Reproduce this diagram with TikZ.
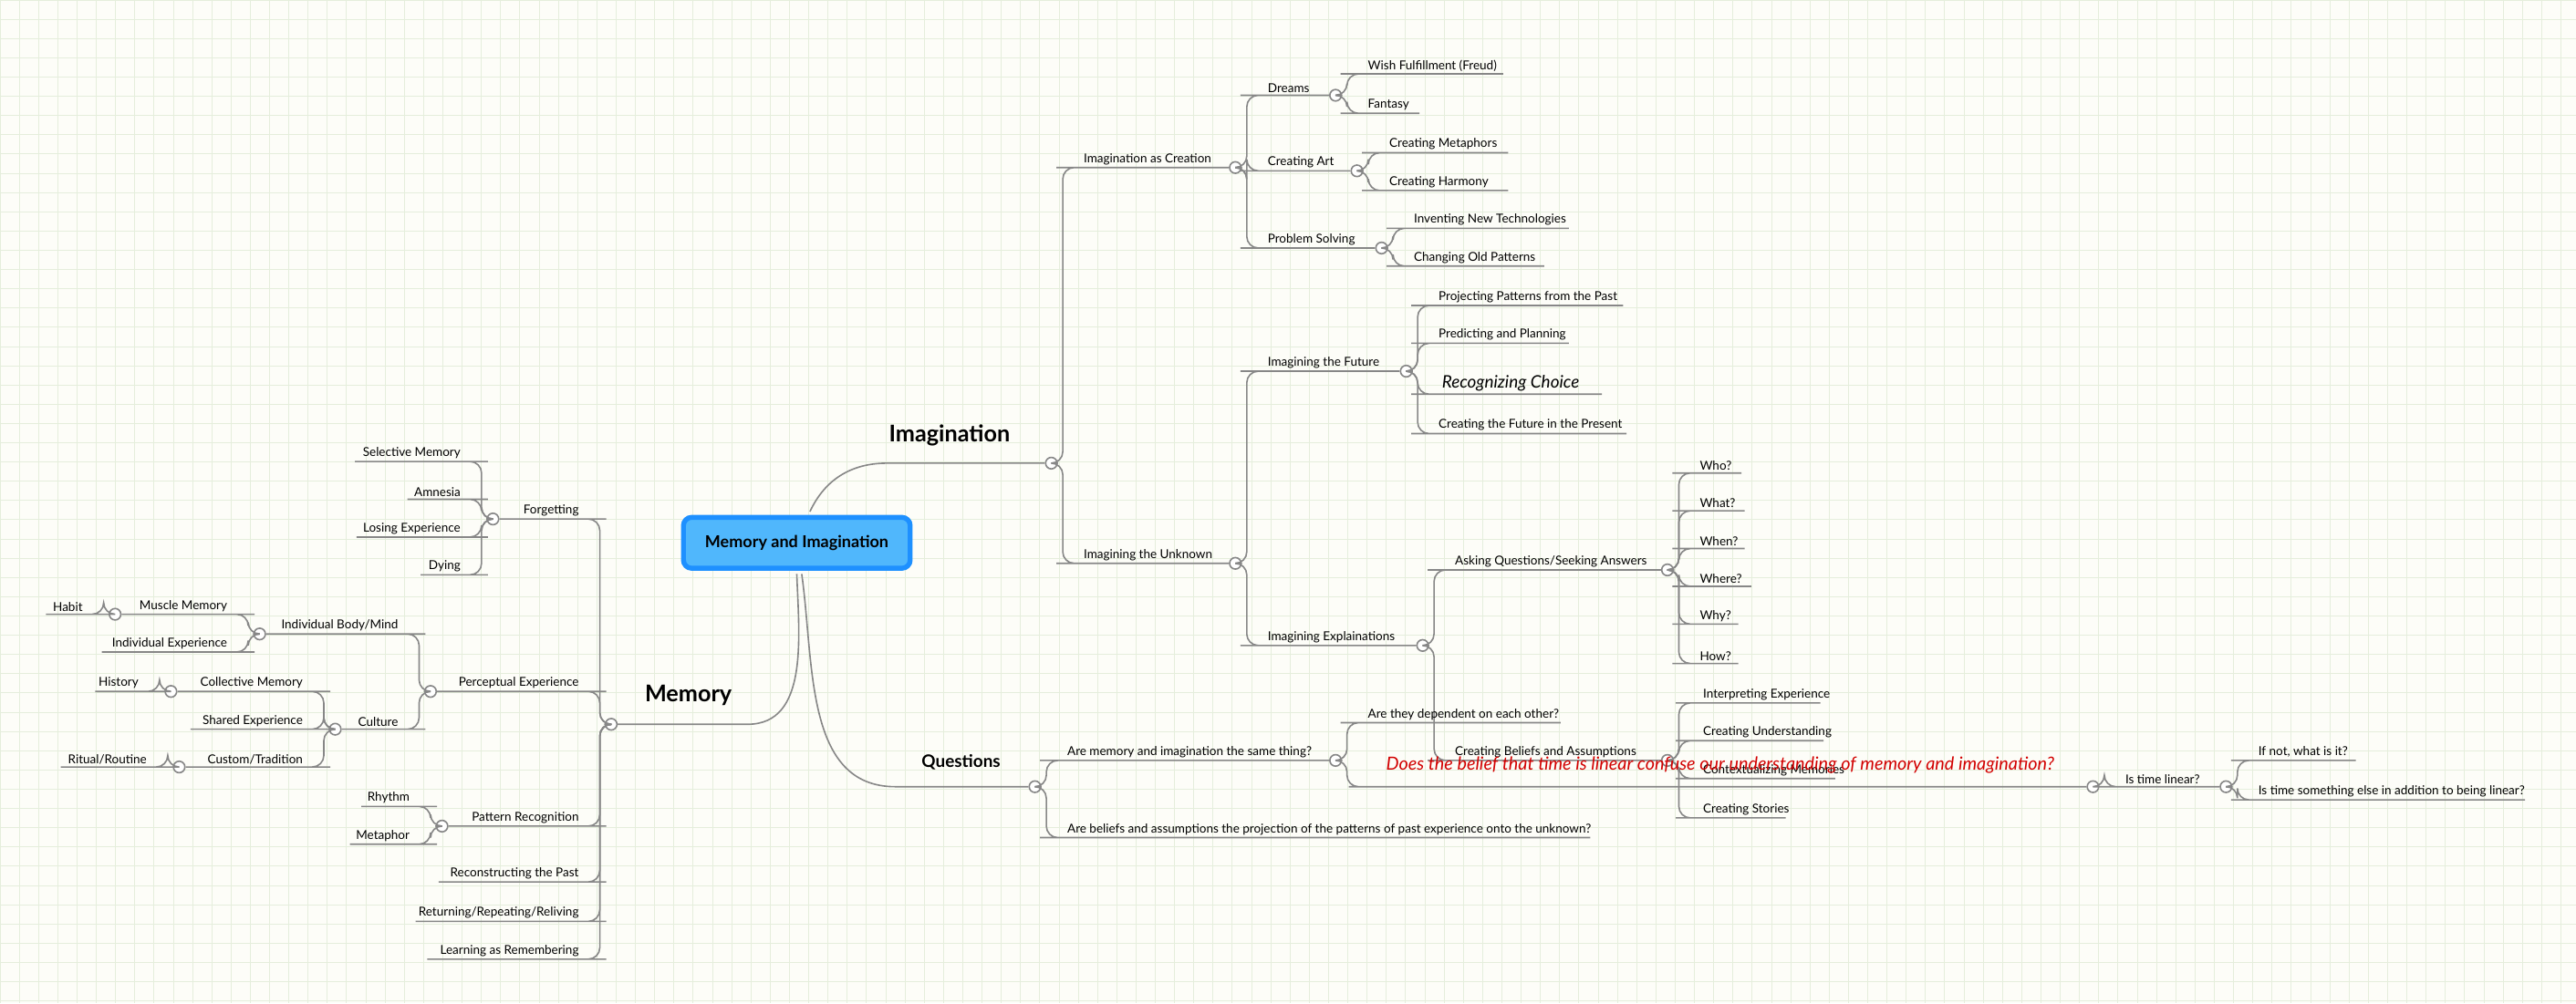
\documentclass[tikz,border=0pt]{standalone}
\usepackage{fontspec}
\setmainfont{Lato}
\usetikzlibrary{calc}
\definecolor{gridc}{RGB}{229,238,220}
\definecolor{bgc}{RGB}{253,253,248}
\definecolor{lnc}{RGB}{135,135,135}
\definecolor{boxfill}{RGB}{80,183,252}
\definecolor{boxbord}{RGB}{30,144,255}
\definecolor{redc}{RGB}{210,0,0}
\tikzset{
 lbl/.style={inner sep=1.5pt,font=\fontsize{7.5}{9}\selectfont},
 conn/.style={draw=lnc,line width=0.9pt},
 dot/.style={circle,draw=lnc,fill=white,line width=0.9pt,minimum size=7pt,inner sep=0pt},
 mainlbl/.style={inner sep=2pt,font=\fontsize{14}{16}\selectfont\bfseries},
}
% right branch: name,parent,x0,x1,y,text
\newcommand\rb[6]{%
 \coordinate (#1s) at (#3,#5); \coordinate (#1e) at (#4,#5);
 \node[lbl,anchor=south west] (#1) at (#3+8,#5) {#6};
 \draw[conn,rounded corners=7pt] (#2.east) -- ($(#2.east)+(3,0)$) |- (#1s) -- (#1e);}
\newcommand\lb[6]{%
 \coordinate (#1s) at (#3,#5); \coordinate (#1e) at (#4,#5);
 \node[lbl,anchor=south east] (#1) at (#3-8,#5) {#6};
 \draw[conn,rounded corners=7pt] (#2.west) -- ($(#2.west)+(-3,0)$) |- (#1s) -- (#1e);}
\newcommand\rdot[1]{\node[dot,anchor=west] (#1c) at (#1e) {};}
\newcommand\ldot[1]{\node[dot,anchor=east] (#1c) at (#1e) {};}
\begin{document}
\begin{tikzpicture}[x=1pt,y=-1pt]
\useasboundingbox (0,0) rectangle (1568,611);
\fill[bgc] (0,0) rectangle (1568,611);
\foreach \i in {0,...,134} \draw[gridc,line width=0.5pt] (\i*11.72,0) -- (\i*11.72,611);
\foreach \j in {0,...,52} \draw[gridc,line width=0.5pt] (0,\j*11.72) -- (1568,\j*11.72);
% root
\node[rounded corners=5pt,fill=boxfill,draw=boxbord,line width=3pt,minimum width=138pt,minimum height=31pt,font=\fontsize{10}{12}\selectfont\bfseries] (root) at (485,330.5) {Memory and Imagination};
% Imagination
\coordinate (imgs) at (540,282); \coordinate (imge) at (636,282);
\node[mainlbl,anchor=south] (img) at (578,274) {Imagination};
\draw[conn] ($(root.north)+(8,-2)$) to[out=65,in=180] (imgs) -- (imge);
\node[dot,anchor=west] (imgc) at (imge) {};
% Memory
\coordinate (mems) at (455,441); \coordinate (meme) at (376,441);
\node[mainlbl,anchor=south] (mem) at (419,432) {Memory};
\draw[conn] ($(root.south)+(0,2)$) to[out=-88,in=0] (mems) -- (meme);
\node[dot,anchor=east] (memc) at (meme) {};
% Questions
\coordinate (qs) at (545,479); \coordinate (qe) at (626,479);
\node[mainlbl,anchor=south,font=\fontsize{10.5}{12}\selectfont\bfseries] (q) at (585,471) {Questions};
\draw[conn] ($(root.south)+(3,2)$) to[out=-82,in=180] (qs) -- (qe);
\node[dot,anchor=west] (qc) at (qe) {};
% --- Imagination subtree
\rb{iac}{imgc}{650}{748}{102}{Imagination as Creation}\rdot{iac}
\rb{iu}{imgc}{650}{748}{343}{Imagining the Unknown}\rdot{iu}
\rb{dr}{iacc}{762}{809}{58}{Dreams}\rdot{dr}
\rb{ca}{iacc}{762}{822}{104}{Creating Art}\rdot{ca}
\rb{ps}{iacc}{762}{837}{151}{Problem Solving}\rdot{ps}
\rb{wf}{drc}{823}{915}{45}{Wish Fulfillment (Freud)}
\rb{fa}{drc}{823}{864}{69}{Fantasy}
\rb{cm}{cac}{836}{918}{93}{Creating Metaphors}
\rb{ch}{cac}{836}{918}{116}{Creating Harmony}
\rb{in}{psc}{851}{955}{139}{Inventing New Technologies}
\rb{co}{psc}{851}{940}{162}{Changing Old Patterns}
\rb{if}{iuc}{762}{852}{226}{Imagining the Future}\rdot{if}
\rb{ie}{iuc}{762}{862}{393}{Imagining Explainations}\rdot{ie}
\rb{pp}{ifc}{866}{988}{186}{Projecting Patterns from the Past}
\rb{pl}{ifc}{866}{955}{209}{Predicting and Planning}
\coordinate (rcs) at (866,240); \coordinate (rce) at (975,240);
\node[lbl,anchor=south west,font=\fontsize{10.5}{12}\selectfont\itshape] (rc) at (876,240) {Recognizing Choice};
\draw[conn,rounded corners=7pt] (ifc.east) -- ($(ifc.east)+(3,0)$) |- (rcs) -- (rce);
\rb{cf}{ifc}{866}{990}{264}{Creating the Future in the Present}
\rb{aq}{iec}{876}{1011}{347}{Asking Questions/Seeking Answers}\rdot{aq}
\rb{cb}{iec}{876}{1011}{463}{Creating Beliefs and Assumptions}\rdot{cb}
\rb{who}{aqc}{1025}{1060}{288}{Who?}
\rb{what}{aqc}{1025}{1062}{311}{What?}
\rb{when}{aqc}{1025}{1062}{334}{When?}
\rb{where}{aqc}{1025}{1066}{357}{Where?}
\rb{why}{aqc}{1025}{1058}{380}{Why?}
\rb{how}{aqc}{1025}{1058}{404}{How?}
\rb{ie2}{cbc}{1027}{1108}{428}{Interpreting Experience}
\rb{cu}{cbc}{1027}{1110}{451}{Creating Understanding}
\rb{cx}{cbc}{1027}{1117}{474}{Contextualizing Memories}
\rb{cs}{cbc}{1027}{1087}{498}{Creating Stories}
% --- Questions subtree
\rb{same}{qc}{640}{809}{463}{Are memory and imagination the same thing?}\rdot{same}
\rb{proj}{qc}{640}{968}{510}{Are beliefs and assumptions the projection of the patterns of past experience onto the unknown?}
\rb{dep}{samec}{823}{950}{440}{Are they dependent on each other?}
\coordinate (lins) at (828,479); \coordinate (line) at (1270,479);
\node[inner sep=1pt,anchor=south,text=redc,font=\fontsize{11}{13}\selectfont\itshape] (lin) at (1047,472) {Does the belief that time is linear confuse our understanding of memory and imagination?};
\draw[conn,rounded corners=7pt] (samec.east) -- ($(samec.east)+(3,0)$) |- (lins) -- (line);
\node[dot,anchor=west] (linc) at (line) {};
\rb{tl}{linc}{1284}{1351}{479}{Is time linear?}\rdot{tl}
\rb{ifn}{tlc}{1365}{1434}{463}{If not, what is it?}
\rb{tse}{tlc}{1365}{1537}{487}{Is time something else in addition to being linear?}
% --- Memory subtree
\lb{fg}{memc}{362}{304}{316}{Forgetting}\ldot{fg}
\lb{sm}{fgc}{290}{216}{281}{Selective Memory}
\lb{am}{fgc}{290}{248}{304}{Amnesia}
\lb{le}{fgc}{290}{217}{327}{Losing Experience}
\lb{dy}{fgc}{290}{256}{350}{Dying}
\lb{pe}{memc}{362}{266}{421}{Perceptual Experience}\ldot{pe}
\lb{ib}{pec}{252}{162}{386}{Individual Body/Mind}\ldot{ib}
\lb{cul}{pec}{252}{208}{444}{Culture}\ldot{cul}
\lb{mm}{ibc}{148}{74}{374}{Muscle Memory}\ldot{mm}
\lb{hab}{mmc}{60}{28}{374}{Habit}
\lb{iex}{ibc}{148}{62}{397}{Individual Experience}
\lb{cm2}{culc}{194}{108}{421}{Collective Memory}\ldot{cm2}
\lb{his}{cm2c}{94}{58}{421}{History}
\lb{se}{culc}{194}{116}{444}{Shared Experience}
\lb{ct}{culc}{194}{113}{467}{Custom/Tradition}\ldot{ct}
\lb{rr}{ctc}{99}{37}{467}{Ritual/Routine}
\lb{pr}{memc}{362}{273}{503}{Pattern Recognition}\ldot{pr}
\lb{rh}{prc}{259}{220}{491}{Rhythm}
\lb{me}{prc}{259}{213}{514}{Metaphor}
\lb{rp}{memc}{362}{267}{537}{Reconstructing the Past}
\lb{rep}{memc}{362}{253}{561}{Returning/Repeating/Reliving}
\lb{lr}{memc}{362}{260}{584}{Learning as Remembering}
\end{tikzpicture}
\end{document}
